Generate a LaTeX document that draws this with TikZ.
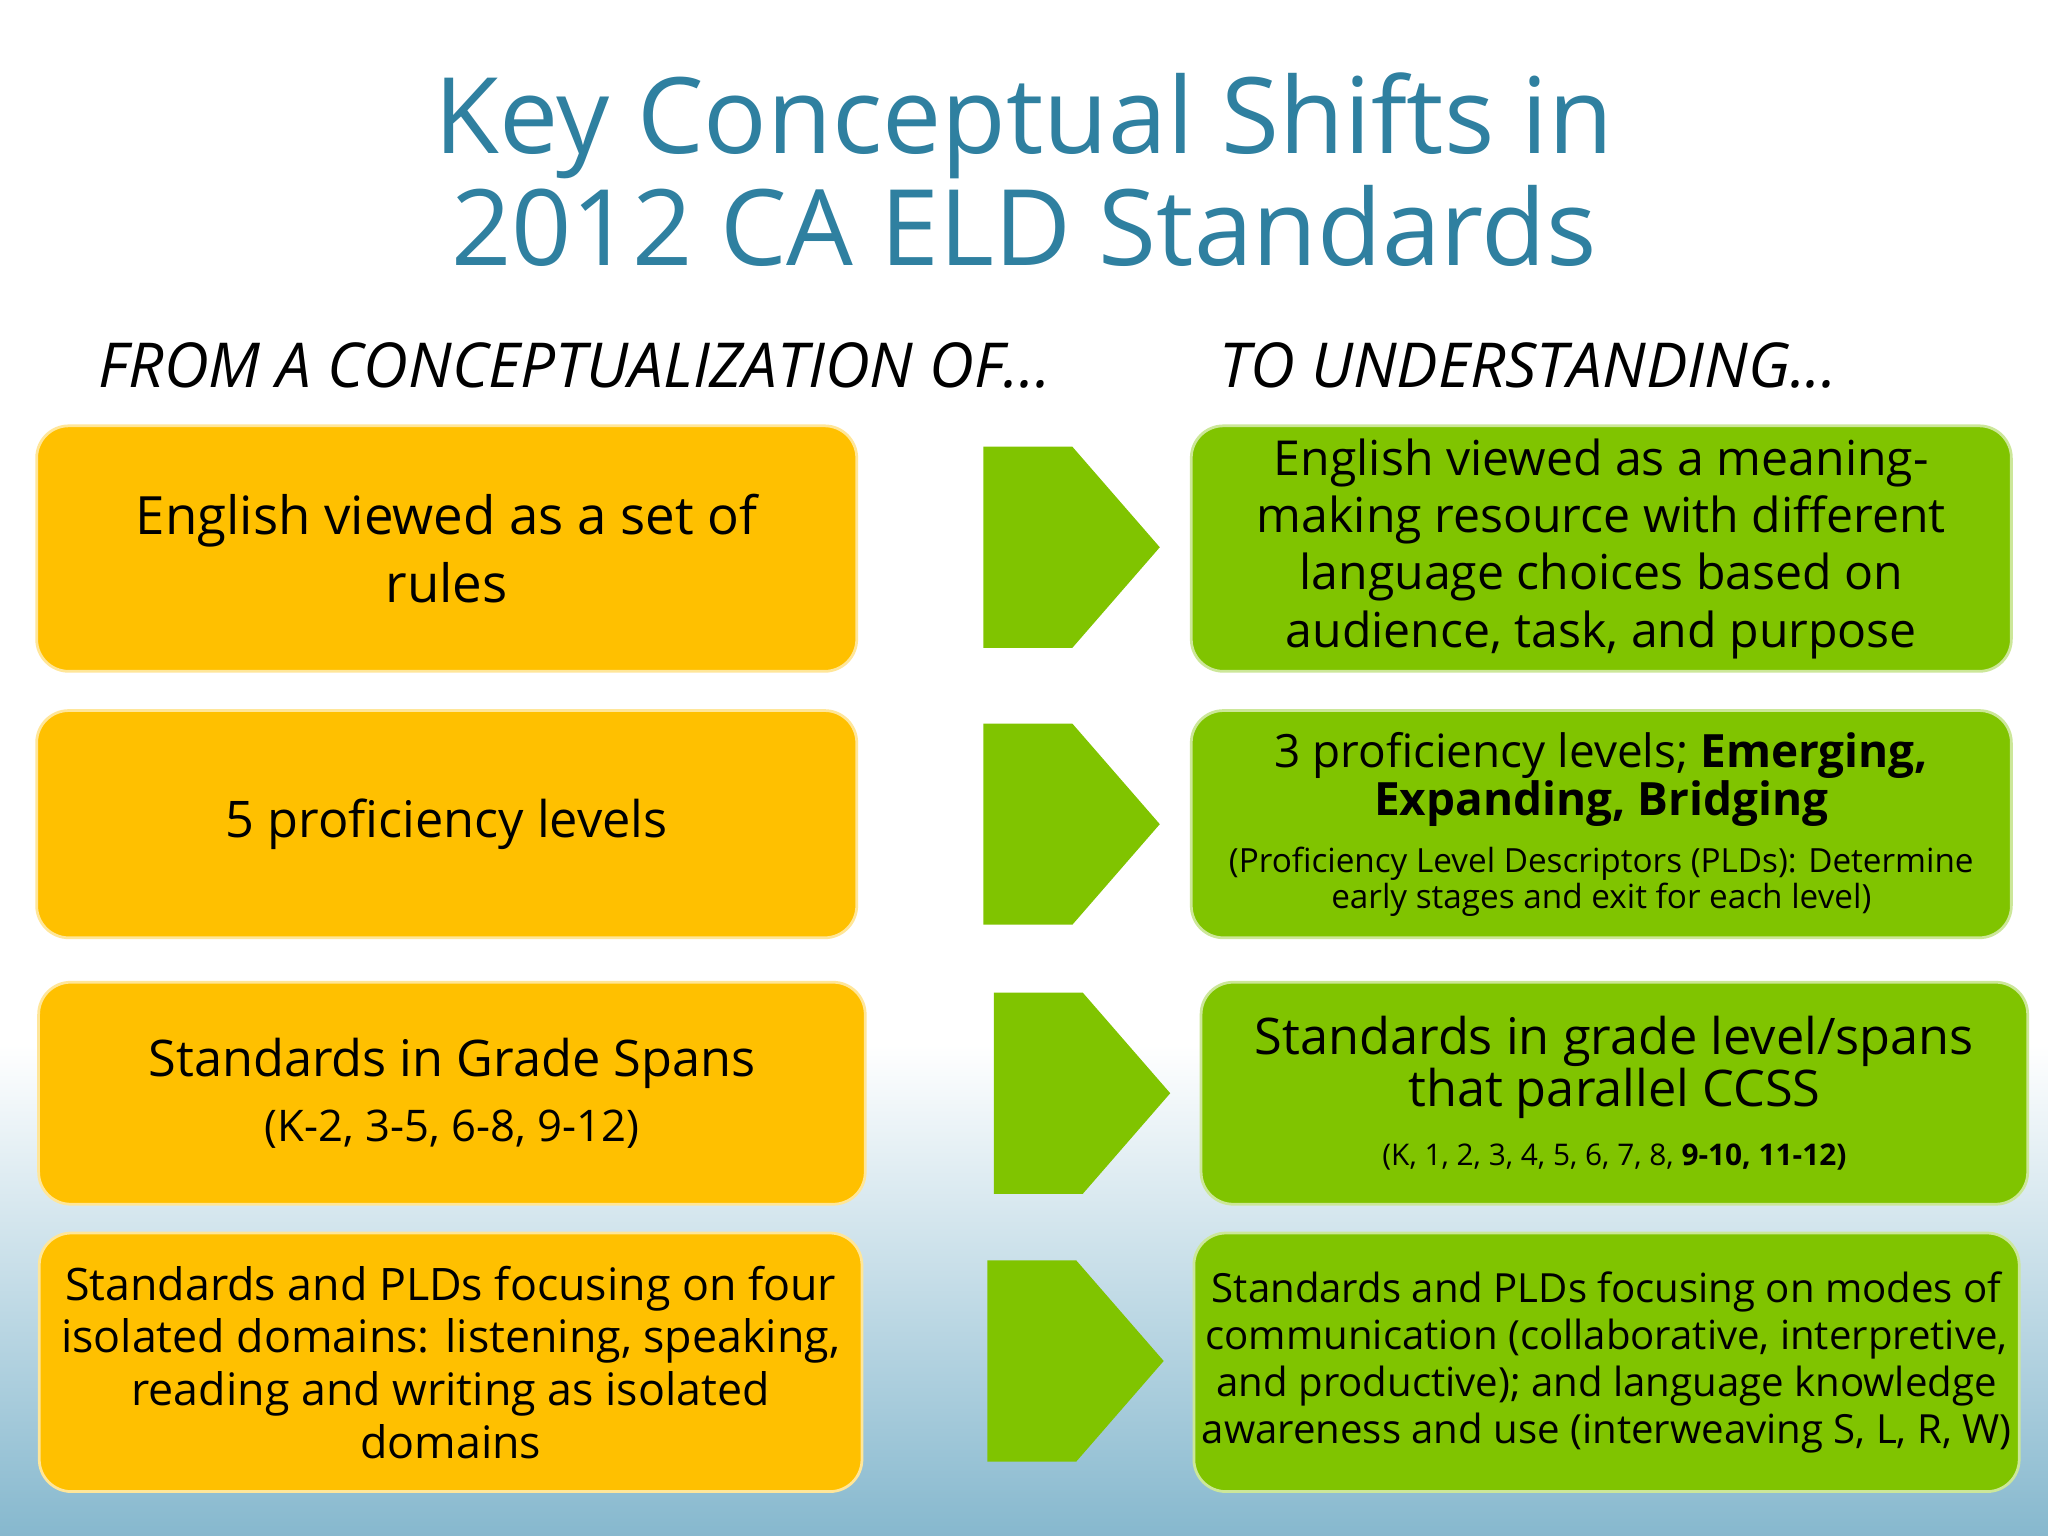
\documentclass[tikz,border=0pt]{standalone}
\usepackage{fontspec}
\setmainfont{Open Sans}
\usetikzlibrary{shapes.arrows}
\definecolor{orng}{HTML}{FFC000}
\definecolor{grn}{HTML}{80C400}
\definecolor{ttl}{HTML}{2F80A0}
\definecolor{bgb}{HTML}{86B8CE}
\tikzset{
 obox/.style={draw=orng!40, line width=1.2pt, fill=orng, rounded corners=14pt, align=center, inner sep=0pt},
 gbox/.style={draw=grn!40, line width=1.2pt, fill=grn, rounded corners=14pt, align=center, inner sep=0pt},
 bigarrow/.style={single arrow, fill=grn, draw=none, minimum width=3.08cm, single arrow head extend=0pt, single arrow tip angle=98, minimum height=2.7cm, inner sep=0pt},
 hdr/.style={font=\fontsize{27}{30}\selectfont\itshape, inner sep=0pt}
}
\begin{document}
\begin{tikzpicture}[x=0.02cm,y=-0.02cm]
\useasboundingbox (0,0) rectangle (1568,1176);
\fill[white] (0,0) rectangle (1568,800);
\shade[top color=white, bottom color=bgb] (0,800) rectangle (1568,1176);
\node[ttl, align=center, font=\fontsize{46}{49}\selectfont] (title) at (784,130) {Key Conceptual Shifts in\\2012 CA ELD Standards};
\node[hdr] (hl) at (440,280) {FROM A CONCEPTUALIZATION OF...};
\node[hdr] (hr) at (1170,280) {TO UNDERSTANDING...};
% left boxes
\node[obox, minimum width=12.56cm, minimum height=3.76cm, font=\fontsize{23}{30}\selectfont] (l1) at (342,420) {English viewed as a set of\\rules};
\node[obox, minimum width=12.56cm, minimum height=3.48cm, font=\fontsize{22}{28}\selectfont] (l2) at (342,631) {5 proficiency levels};
\node[obox, minimum width=12.66cm, minimum height=3.4cm, align=center] (l3) at (346,837) {\fontsize{22}{28}\selectfont Standards in Grade Spans\\[8pt]\fontsize{19}{24}\selectfont (K-2, 3-5, 6-8, 9-12)};
\node[obox, minimum width=12.6cm, minimum height=3.96cm, font=\fontsize{19.5}{23}\selectfont] (l4) at (345,1043) {Standards and PLDs focusing on four\\isolated domains: listening, speaking,\\reading and writing as isolated\\domains};
% right boxes
\node[gbox, minimum width=12.56cm, minimum height=3.76cm, font=\fontsize{21}{25}\selectfont] (r1) at (1226,420) {English viewed as a meaning-\\making resource with different\\language choices based on\\audience, task, and purpose};
\node[gbox, minimum width=12.56cm, minimum height=3.48cm] (r2) at (1226,631) {\fontsize{20}{23}\selectfont 3 proficiency levels; {\bfseries Emerging,}\\\fontsize{20}{23}\selectfont\bfseries Expanding, Bridging\\[8pt]\fontsize{14.5}{17.5}\selectfont (Proficiency Level Descriptors (PLDs): Determine\\\fontsize{14.5}{17.5}\selectfont early stages and exit for each level)};
\node[gbox, minimum width=12.66cm, minimum height=3.4cm] (r3) at (1236,837) {\fontsize{22}{26}\selectfont Standards in grade level/spans\\\fontsize{22}{26}\selectfont that parallel CCSS\\[10pt]\fontsize{13}{16}\selectfont (K, 1, 2, 3, 4, 5, 6, 7, 8, \textbf{9-10, 11-12)}};
\node[gbox, minimum width=12.64cm, minimum height=3.96cm, font=\fontsize{17.5}{20.5}\selectfont] (r4) at (1230,1043) {Standards and PLDs focusing on modes of\\communication (collaborative, interpretive,\\and productive); and language knowledge\\awareness and use (interweaving S, L, R, W)};
% arrows
\node[bigarrow] (a1) at (787,419) {};
\node[bigarrow] (a2) at (787,631) {};
\node[bigarrow] (a3) at (795,837) {};
\node[bigarrow] (a4) at (790,1042) {};
\end{tikzpicture}
\end{document}
